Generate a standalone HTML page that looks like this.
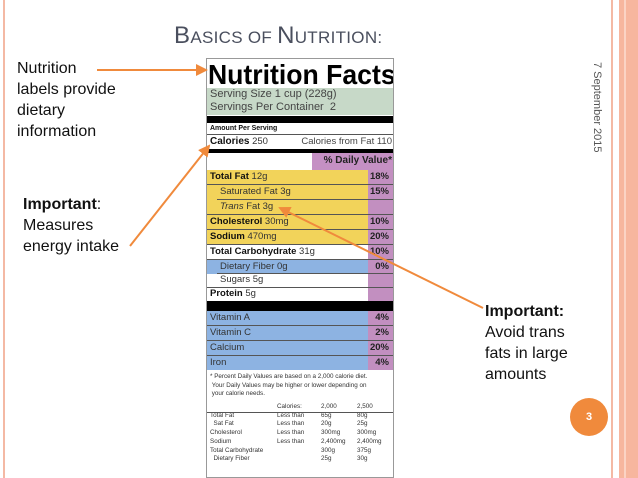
<!DOCTYPE html>
<html><head><meta charset="utf-8"><style>
body{margin:0;width:638px;height:478px;overflow:hidden;background:#fff;font-family:"Liberation Sans",sans-serif;position:relative}
.a{position:absolute}
.r{position:absolute;left:0;width:188px;font-size:9.5px;line-height:14px;color:#333;white-space:nowrap}
.r b{color:#111}
.p{position:absolute;right:3px;font-weight:bold;color:#222}
.ln{position:absolute;height:1px;background:#555}
.ft{position:absolute;font-size:6.3px;color:#333;white-space:nowrap}
</style></head><body>
<div class="a" style="left:3px;top:0;width:2px;height:478px;background:#f4b9a4"></div>
<div class="a" style="left:611px;top:0;width:2px;height:478px;background:#f4b9a4"></div>
<div class="a" style="left:619px;top:0;width:19px;height:478px;background:#f7b69e"></div>
<div class="a" style="left:624px;top:0;width:2px;height:478px;background:#fbd3c4"></div>

<div class="a" style="left:174px;top:22px;font-size:24px;color:#4a4f5e;letter-spacing:0.3px">B<span style="font-size:17px">ASICS OF </span>N<span style="font-size:17px">UTRITION:</span></div>

<div class="a" style="width:120px;font-size:11px;color:#555;transform:rotate(90deg);transform-origin:0 0;left:603px;top:62px">7 September 2015</div>

<div class="a" style="left:17px;top:58px;font-size:16px;line-height:21px;color:#111">Nutrition<br>labels provide<br>dietary<br>information</div>
<div class="a" style="left:23px;top:194px;font-size:16px;line-height:21px;color:#111"><b>Important</b>:<br>Measures<br>energy intake</div>
<div class="a" style="left:485px;top:301px;font-size:16px;line-height:21px;color:#111"><b>Important:</b><br>Avoid trans<br>fats in large<br>amounts</div>

<div class="a" style="left:570px;top:398px;width:38px;height:38px;border-radius:50%;background:#f08a3c;color:#fff;font-size:11px;font-weight:bold;text-align:center;line-height:38px">3</div>

<div class="a" style="left:206px;top:58px;width:188px;height:420px;border:1px solid #999;box-sizing:border-box;overflow:hidden;background:#fff">
 <div class="a" style="left:0;top:0;height:30px;font-weight:bold;font-size:28px;line-height:31px;letter-spacing:0px;color:#000;transform:scaleX(0.95);transform-origin:0 0;width:230px;padding-left:1px">Nutrition Facts</div>
 <div class="a" style="left:0;top:29px;width:188px;height:27px;background:#c7d9c8"></div>
 <div class="r" style="top:29px;left:3px;font-size:11px;line-height:12.5px;color:#444">Serving Size 1 cup (228g)<br>Servings Per Container&nbsp; 2</div>
 <div class="a" style="left:0;top:57px;width:188px;height:7px;background:#000"></div>
 <div class="r" style="top:63px;left:3px;font-size:7px;font-weight:bold;color:#111">Amount Per Serving</div>
 <div class="ln" style="left:0;top:75px;width:188px"></div>
 <div class="r" style="top:76px;left:3px;width:182px"><b style="font-size:10px">Calories</b> 250<span class="p" style="right:0;font-weight:normal;color:#444">Calories from Fat 110</span></div>
 <div class="a" style="left:0;top:90px;width:188px;height:4px;background:#000"></div>
 <div class="a" style="left:105px;top:94px;width:83px;height:17px;background:#c590c4"></div>
 <div class="r" style="top:95px"><span class="p" style="font-size:10px">% Daily Value*</span></div>
 <div class="a" style="left:0;top:111px;width:161px;height:75px;background:#f2d35a"></div>
 <div class="a" style="left:161px;top:111px;width:27px;height:200px;background:#c28fc0"></div>
 <div class="a" style="left:0;top:200px;width:161px;height:15px;background:#8db3e2"></div>
 <div class="a" style="left:0;top:242px;width:188px;height:10px;background:#000"></div>
 <div class="a" style="left:0;top:252px;width:161px;height:59px;background:#8db3e2"></div>
 <div class="a" style="left:161px;top:252px;width:27px;height:59px;background:#c28fc0"></div>

 <div class="r" style="top:111px;left:3px;width:182px"><b>Total Fat</b> 12g<span class="p">18%</span></div>
 <div class="ln" style="left:0;top:125px;width:188px"></div>
 <div class="r" style="top:126px;left:13px;width:172px">Saturated Fat 3g<span class="p">15%</span></div>
 <div class="ln" style="left:10px;top:140px;width:178px"></div>
 <div class="r" style="top:141px;left:13px"><i>Trans</i> Fat 3g</div>
 <div class="ln" style="left:0;top:155px;width:188px"></div>
 <div class="r" style="top:156px;left:3px;width:182px"><b>Cholesterol</b> 30mg<span class="p">10%</span></div>
 <div class="ln" style="left:0;top:170px;width:188px"></div>
 <div class="r" style="top:171px;left:3px;width:182px"><b>Sodium</b> 470mg<span class="p">20%</span></div>
 <div class="ln" style="left:0;top:185px;width:188px"></div>
 <div class="r" style="top:186px;left:3px;width:182px"><b>Total Carbohydrate</b> 31g<span class="p">10%</span></div>
 <div class="ln" style="left:0;top:200px;width:188px"></div>
 <div class="r" style="top:201px;left:13px;width:172px">Dietary Fiber 0g<span class="p">0%</span></div>
 <div class="ln" style="left:10px;top:214px;width:178px"></div>
 <div class="r" style="top:214px;left:13px">Sugars 5g</div>
 <div class="ln" style="left:0;top:228px;width:188px"></div>
 <div class="r" style="top:228px;left:3px"><b>Protein</b> 5g</div>
 <div class="r" style="top:252px;left:3px;width:182px">Vitamin A<span class="p">4%</span></div>
 <div class="ln" style="left:0;top:266px;width:188px"></div>
 <div class="r" style="top:267px;left:3px;width:182px">Vitamin C<span class="p">2%</span></div>
 <div class="ln" style="left:0;top:281px;width:188px"></div>
 <div class="r" style="top:282px;left:3px;width:182px">Calcium<span class="p">20%</span></div>
 <div class="ln" style="left:0;top:296px;width:188px"></div>
 <div class="r" style="top:297px;left:3px;width:182px">Iron<span class="p">4%</span></div>
 <div class="ft" style="left:3px;top:314px;line-height:8.5px">* Percent Daily Values are based on a 2,000 calorie diet.<br>&nbsp;Your Daily Values may be higher or lower depending on<br>&nbsp;your calorie needs.</div>
 <div class="ft" style="left:3px;top:344px;line-height:8.7px">&nbsp;<br>Total Fat<br>&nbsp;&nbsp;Sat Fat<br>Cholesterol<br>Sodium<br>Total Carbohydrate<br>&nbsp;&nbsp;Dietary Fiber</div>
 <div class="ft" style="left:70px;top:344px;line-height:8.7px">Calories:<br>Less than<br>Less than<br>Less than<br>Less than</div>
 <div class="ft" style="left:114px;top:344px;line-height:8.7px">2,000<br>65g<br>20g<br>300mg<br>2,400mg<br>300g<br>25g</div>
 <div class="ft" style="left:150px;top:344px;line-height:8.7px">2,500<br>80g<br>25g<br>300mg<br>2,400mg<br>375g<br>30g</div>
 <div class="ln" style="left:0;top:353px;width:188px"></div>
</div>

<svg class="a" style="left:0;top:0" width="638" height="478">
 <defs><marker id="ah" markerWidth="6" markerHeight="6" refX="5" refY="3" orient="auto"><path d="M0,0L6,3L0,6z" fill="#f08a3c"/></marker></defs>
 <line x1="97" y1="70" x2="206" y2="70" stroke="#f08a3c" stroke-width="2" marker-end="url(#ah)"/>
 <line x1="130" y1="246" x2="209" y2="146" stroke="#f08a3c" stroke-width="2" marker-end="url(#ah)"/>
 <line x1="483" y1="308" x2="280" y2="208" stroke="#f08a3c" stroke-width="2" marker-end="url(#ah)"/>
</svg>
</body></html>
